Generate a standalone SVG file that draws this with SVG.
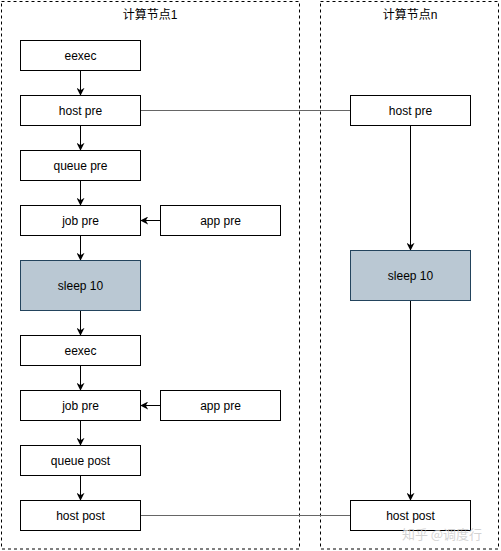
<svg xmlns="http://www.w3.org/2000/svg" width="501" height="551" viewBox="0 0 501 551">
<defs>
<style>
.c{fill:none;stroke:#000;stroke-width:1;stroke-dasharray:3 3}
.b{fill:#fff;stroke:#000;stroke-width:1}
.s{fill:#bac8d3;stroke:#23445d;stroke-width:1}
.t{font-family:"Liberation Sans",Helvetica,Arial,sans-serif;font-size:12px;fill:#000;text-anchor:middle;dominant-baseline:central}
.h{font-family:"Liberation Sans","Noto Sans CJK SC",sans-serif;font-size:12px;fill:#000;text-anchor:middle}
.e{fill:none;stroke:#000;stroke-width:1}
.g{fill:none;stroke:#666;stroke-width:1}
</style>
<marker id="a" viewBox="0 0 10 10" refX="9" refY="5" markerWidth="8" markerHeight="8" markerUnits="userSpaceOnUse" orient="auto">
<path d="M0,0 L10,5 L0,10 L3,5 Z" fill="#000"/>
</marker>
</defs>
<rect width="501" height="551" fill="#fff"/>
<g id="container1">
<rect class="c" x="1.5" y="1.5" width="298" height="547.5"/>
<text class="h" x="150" y="19">计算节点1</text>
</g>
<g id="containerN">
<rect class="c" x="320.5" y="1.5" width="178" height="547.5"/>
<text class="h" x="410" y="19">计算节点n</text>
</g>
<g id="connectors">
<line class="e" x1="80.5" y1="70.5" x2="80.5" y2="95" marker-end="url(#a)"/>
<line class="e" x1="80.5" y1="125.5" x2="80.5" y2="150" marker-end="url(#a)"/>
<line class="e" x1="80.5" y1="180.5" x2="80.5" y2="205" marker-end="url(#a)"/>
<line class="e" x1="80.5" y1="235.5" x2="80.5" y2="260" marker-end="url(#a)"/>
<line class="e" x1="80.5" y1="310.5" x2="80.5" y2="335" marker-end="url(#a)"/>
<line class="e" x1="80.5" y1="365.5" x2="80.5" y2="390" marker-end="url(#a)"/>
<line class="e" x1="80.5" y1="420.5" x2="80.5" y2="445" marker-end="url(#a)"/>
<line class="e" x1="80.5" y1="475.5" x2="80.5" y2="500" marker-end="url(#a)"/>
<line class="e" x1="160.5" y1="220.5" x2="141" y2="220.5" marker-end="url(#a)"/>
<line class="e" x1="160.5" y1="405.5" x2="141" y2="405.5" marker-end="url(#a)"/>
<line class="g" x1="140.5" y1="110.5" x2="350.5" y2="110.5"/>
<line class="g" x1="140.5" y1="515.5" x2="350.5" y2="515.5"/>
<line class="e" x1="410.5" y1="125.5" x2="410.5" y2="250" marker-end="url(#a)"/>
<line class="e" x1="410.5" y1="300.5" x2="410.5" y2="500" marker-end="url(#a)"/>
</g>
<g id="n1"><rect class="b" x="20.5" y="40.5" width="120" height="30"/><text class="t" x="80.5" y="55.5">eexec</text></g>
<g id="n2"><rect class="b" x="20.5" y="95.5" width="120" height="30"/><text class="t" x="80.5" y="110.5">host pre</text></g>
<g id="n3"><rect class="b" x="20.5" y="150.5" width="120" height="30"/><text class="t" x="80.5" y="165.5">queue pre</text></g>
<g id="n4"><rect class="b" x="20.5" y="205.5" width="120" height="30"/><text class="t" x="80.5" y="220.5">job pre</text></g>
<g id="n5"><rect class="s" x="20.5" y="260.5" width="120" height="50"/><text class="t" x="80.5" y="285.5">sleep 10</text></g>
<g id="n6"><rect class="b" x="20.5" y="335.5" width="120" height="30"/><text class="t" x="80.5" y="350.5">eexec</text></g>
<g id="n7"><rect class="b" x="20.5" y="390.5" width="120" height="30"/><text class="t" x="80.5" y="405.5">job pre</text></g>
<g id="n8"><rect class="b" x="20.5" y="445.5" width="120" height="30"/><text class="t" x="80.5" y="460.5">queue post</text></g>
<g id="n9"><rect class="b" x="20.5" y="500.5" width="120" height="30"/><text class="t" x="80.5" y="515.5">host post</text></g>
<g id="app1"><rect class="b" x="160.5" y="205.5" width="120" height="30"/><text class="t" x="220.5" y="220.5">app pre</text></g>
<g id="app2"><rect class="b" x="160.5" y="390.5" width="120" height="30"/><text class="t" x="220.5" y="405.5">app pre</text></g>
<g id="r1"><rect class="b" x="350.5" y="95.5" width="120" height="30"/><text class="t" x="410.5" y="110.5">host pre</text></g>
<g id="r2"><rect class="s" x="350.5" y="250.5" width="120" height="50"/><text class="t" x="410.5" y="275.5">sleep 10</text></g>
<g id="r3"><rect class="b" x="350.5" y="500.5" width="120" height="30"/><text class="t" x="410.5" y="515.5">host post</text></g>
<text x="442" y="539" font-family="'Noto Sans CJK SC',sans-serif" font-size="13" fill="#cccccc" fill-opacity="0.85" text-anchor="middle">知乎 @调度行</text>
</svg>
